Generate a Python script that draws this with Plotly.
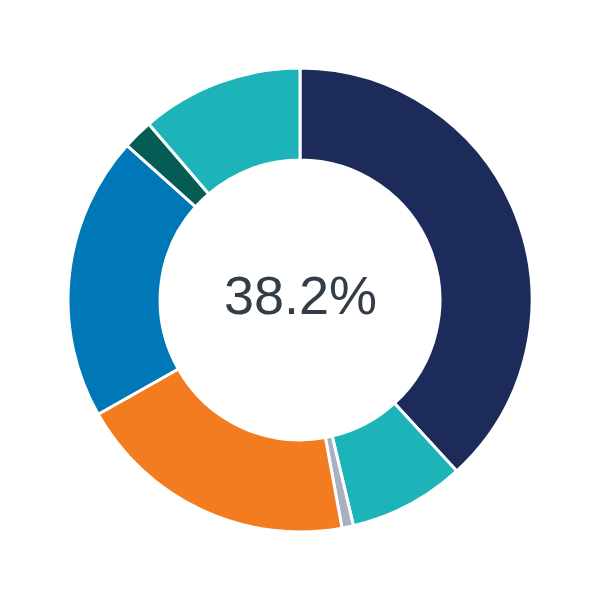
import plotly.graph_objects as go

labels = ["A", "B", "C", "D", "E", "F", "G"]
values = [38.2, 8.1, 0.8, 19.7, 19.8, 2.1, 11.3]
colors = ["#1c2b5a", "#1cb4b9", "#a9b0bf", "#f37c20", "#0077b6", "#045c55", "#1cb4b9"]
center_label = "38.2%"

fig = go.Figure()
fig.add_trace(go.Pie(
    labels=labels,
    values=values,
    hole=0.603,
    sort=False,
    direction="clockwise",
    rotation=0,
    textinfo="none",
    marker=dict(colors=colors, line=dict(color="white", width=3)),
    showlegend=False,
))
fig.add_annotation(
    text=center_label, x=0.5, y=0.5, xref="paper", yref="paper", yshift=5,
    showarrow=False, font=dict(family="Liberation Sans, Arial", size=54, color="#333d47"),
)
# page body has an 8px margin, so shift the plot area up/left
fig.update_layout(
    width=600, height=600,
    margin=dict(l=60, r=76, t=60, b=76),
    paper_bgcolor="white", plot_bgcolor="white",
)
fig.write_html("out.html")
